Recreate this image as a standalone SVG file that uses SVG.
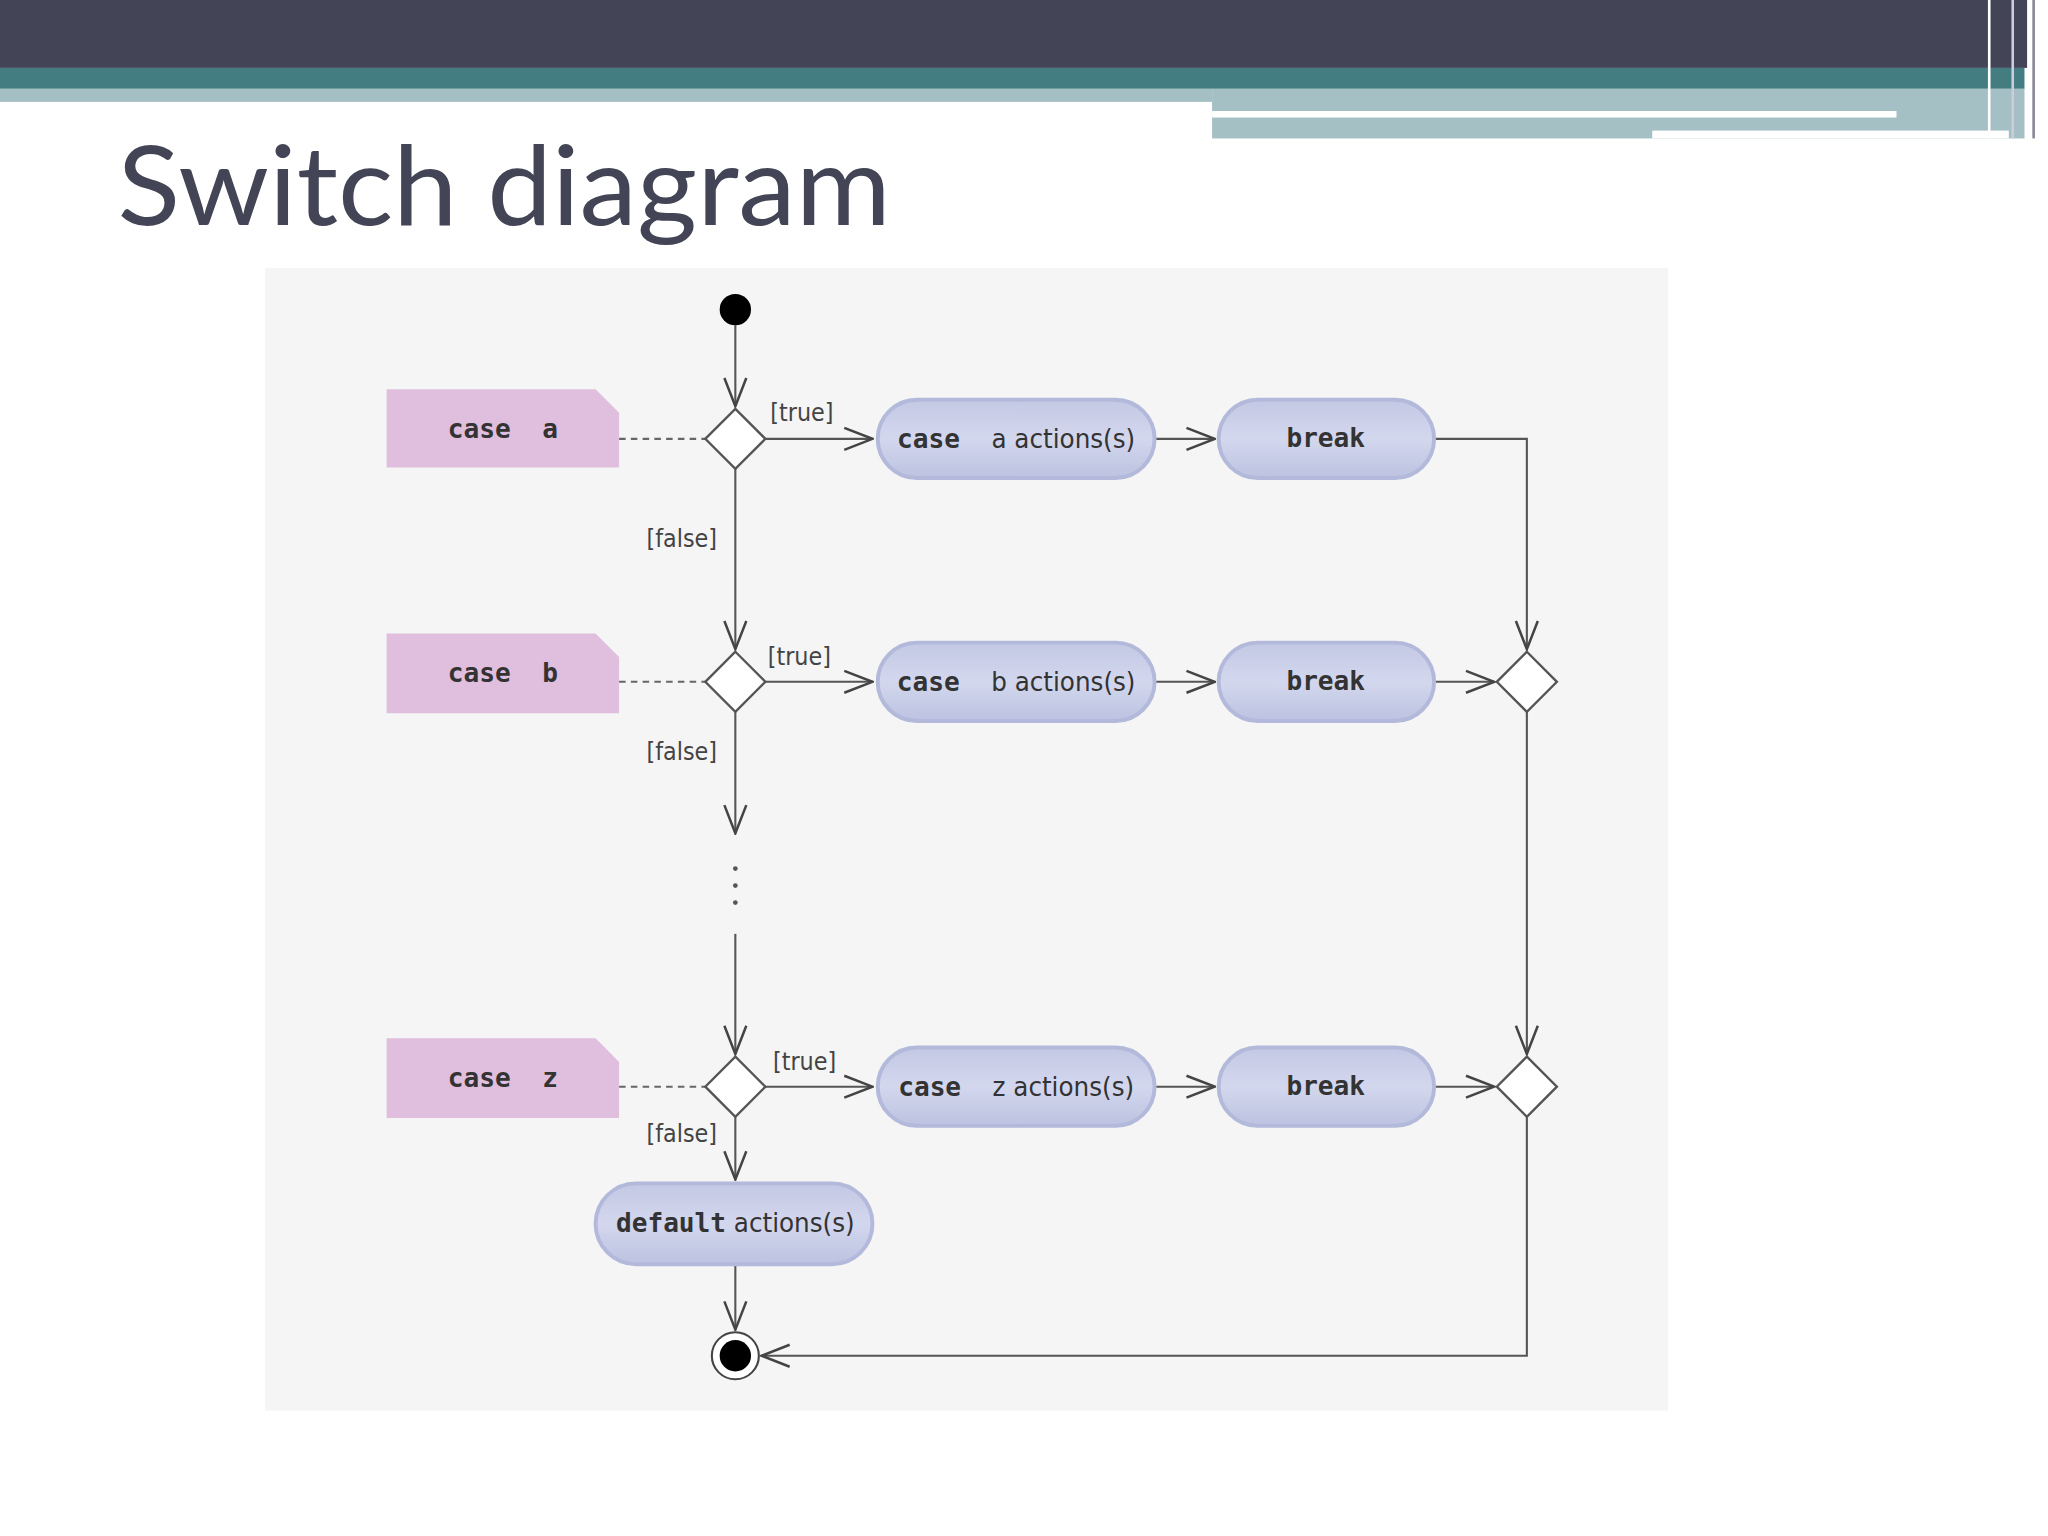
<svg xmlns="http://www.w3.org/2000/svg" width="2048" height="1536" viewBox="0 0 2048 1536">
<defs>
<marker id="ah" viewBox="0 0 20 20" refX="19" refY="10" markerWidth="24" markerHeight="24" markerUnits="userSpaceOnUse" orient="auto">
<path d="M1,3 L19,10 L1,17" fill="none" stroke="#444" stroke-width="1.6"/>
</marker>
<linearGradient id="pill" x1="0" y1="0" x2="0" y2="1">
<stop offset="0" stop-color="#c3c8e4"/><stop offset="0.5" stop-color="#d3d7ee"/><stop offset="1" stop-color="#bcc2e0"/>
</linearGradient>
</defs>
<style>
.edge{fill:none;stroke:#555;stroke-width:1.6}
.dash{fill:none;stroke:#666;stroke-width:1.6;stroke-dasharray:5,4}
.dia{fill:#fff;stroke:#555;stroke-width:1.8}
.pill{fill:url(#pill);stroke:#b3b9da;stroke-width:3}
.note{fill:#e0bedd}
.mono{font-family:"DejaVu Sans Mono",monospace;font-weight:bold;font-size:20px;fill:#333}
.lab{font-family:"Liberation Sans Narrow","DejaVu Sans Condensed","Liberation Sans",sans-serif;font-size:21px;fill:#333}
.grd{font-family:"Liberation Sans Narrow","DejaVu Sans Condensed","Liberation Sans",sans-serif;font-size:19px;fill:#444}
</style>
<rect width="2048" height="1536" fill="#fff"/>
<g transform="scale(1.30612)">
<g id="header">
<rect x="0" y="0" width="1568" height="52" fill="#434455"/>
<rect x="0" y="52" width="1550" height="16" fill="#437d82"/>
<rect x="0" y="68" width="928" height="10" fill="#a5c0c5"/>
<rect x="928" y="68" width="622" height="38" fill="#a5c0c5"/>
<rect x="928" y="85" width="524" height="5" fill="#fff"/>
<rect x="1265" y="100" width="273" height="6" fill="#fff"/>
<rect x="1522" y="0" width="2" height="106" fill="#fff"/>
<rect x="1540" y="0" width="2" height="106" fill="#ccd"/>
<rect x="1552" y="0" width="16" height="106" fill="#fff"/>
<rect x="1556" y="0" width="2" height="106" fill="#889"/>
<text x="90" y="172" font-family="Lato,'Open Sans',sans-serif" font-size="84" fill="#434455" textLength="592" lengthAdjust="spacingAndGlyphs">Switch diagram</text>
</g>
<rect id="panel" x="203" y="205" width="1074" height="875" fill="#f5f5f5"/>
<g id="connectors">
<path class="edge" d="M563,249 V311" marker-end="url(#ah)"/>
<path class="edge" d="M586,336 H668" marker-end="url(#ah)"/>
<path class="edge" d="M884,336 H930" marker-end="url(#ah)"/>
<path class="edge" d="M1098,336 H1169 V497" marker-end="url(#ah)"/>
<path class="edge" d="M563,359 V497" marker-end="url(#ah)"/>
<path class="edge" d="M586,522 H668" marker-end="url(#ah)"/>
<path class="edge" d="M884,522 H930" marker-end="url(#ah)"/>
<path class="edge" d="M1098,522 H1144" marker-end="url(#ah)"/>
<path class="edge" d="M563,545 V638" marker-end="url(#ah)"/>
<path class="edge" d="M563,715 V807" marker-end="url(#ah)"/>
<path class="edge" d="M1169,545 V807" marker-end="url(#ah)"/>
<path class="edge" d="M586,832 H668" marker-end="url(#ah)"/>
<path class="edge" d="M884,832 H930" marker-end="url(#ah)"/>
<path class="edge" d="M1098,832 H1144" marker-end="url(#ah)"/>
<path class="edge" d="M563,855 V903" marker-end="url(#ah)"/>
<path class="edge" d="M563,968 V1018" marker-end="url(#ah)"/>
<path class="edge" d="M1169,855 V1038 H583" marker-end="url(#ah)"/>
<path class="dash" d="M474,336 H540 M474,522 H540 M474,832 H540"/>
<g fill="#555"><circle cx="563" cy="665" r="1.8"/><circle cx="563" cy="678" r="1.8"/><circle cx="563" cy="691" r="1.8"/></g>
<text class="grd" x="614" y="322" text-anchor="middle">[true]</text>
<text class="grd" x="522" y="419" text-anchor="middle">[false]</text>
<text class="grd" x="612" y="509" text-anchor="middle">[true]</text>
<text class="grd" x="522" y="582" text-anchor="middle">[false]</text>
<text class="grd" x="616" y="819" text-anchor="middle">[true]</text>
<text class="grd" x="522" y="874" text-anchor="middle">[false]</text>
</g>
<g id="start"><circle cx="563" cy="237" r="12" fill="#000"/></g>
<g id="end"><circle cx="563" cy="1038" r="18" fill="#fff" stroke="#444" stroke-width="1.6"/><circle cx="563" cy="1038" r="12" fill="#000"/></g>
<g id="dec-a"><path class="dia" d="M563,313 L586,336 L563,359 L540,336 Z"/></g>
<g id="dec-b"><path class="dia" d="M563,499 L586,522 L563,545 L540,522 Z"/></g>
<g id="dec-z"><path class="dia" d="M563,809 L586,832 L563,855 L540,832 Z"/></g>
<g id="merge-1"><path class="dia" d="M1169,499 L1192,522 L1169,545 L1146,522 Z"/></g>
<g id="merge-2"><path class="dia" d="M1169,809 L1192,832 L1169,855 L1146,832 Z"/></g>
<g id="note-a"><path class="note" d="M296,298 H456 L474,316 V358 H296 Z"/><text class="mono" x="385" y="335" text-anchor="middle" xml:space="preserve">case  a</text></g>
<g id="note-b"><path class="note" d="M296,485 H456 L474,503 V546 H296 Z"/><text class="mono" x="385" y="522" text-anchor="middle" xml:space="preserve">case  b</text></g>
<g id="note-z"><path class="note" d="M296,795 H456 L474,813 V856 H296 Z"/><text class="mono" x="385" y="832" text-anchor="middle" xml:space="preserve">case  z</text></g>
<g id="act-a"><rect class="pill" x="672" y="306" width="212" height="60" rx="30"/><text x="778" y="343" text-anchor="middle"><tspan class="mono" xml:space="preserve">case  </tspan><tspan class="lab">a actions(s)</tspan></text></g>
<g id="break-a"><rect class="pill" x="933" y="306" width="165" height="60" rx="30"/><text class="mono" x="1015" y="342" text-anchor="middle">break</text></g>
<g id="act-b"><rect class="pill" x="672" y="492" width="212" height="60" rx="30"/><text x="778" y="529" text-anchor="middle"><tspan class="mono" xml:space="preserve">case  </tspan><tspan class="lab">b actions(s)</tspan></text></g>
<g id="break-b"><rect class="pill" x="933" y="492" width="165" height="60" rx="30"/><text class="mono" x="1015" y="528" text-anchor="middle">break</text></g>
<g id="act-z"><rect class="pill" x="672" y="802" width="212" height="60" rx="30"/><text x="778" y="839" text-anchor="middle"><tspan class="mono" xml:space="preserve">case  </tspan><tspan class="lab">z actions(s)</tspan></text></g>
<g id="break-z"><rect class="pill" x="933" y="802" width="165" height="60" rx="30"/><text class="mono" x="1015" y="838" text-anchor="middle">break</text></g>
<g id="default"><rect class="pill" x="456" y="906" width="212" height="62" rx="31"/><text x="563" y="943" text-anchor="middle"><tspan class="mono">default</tspan><tspan class="lab"> actions(s)</tspan></text></g>
</g>
</svg>
